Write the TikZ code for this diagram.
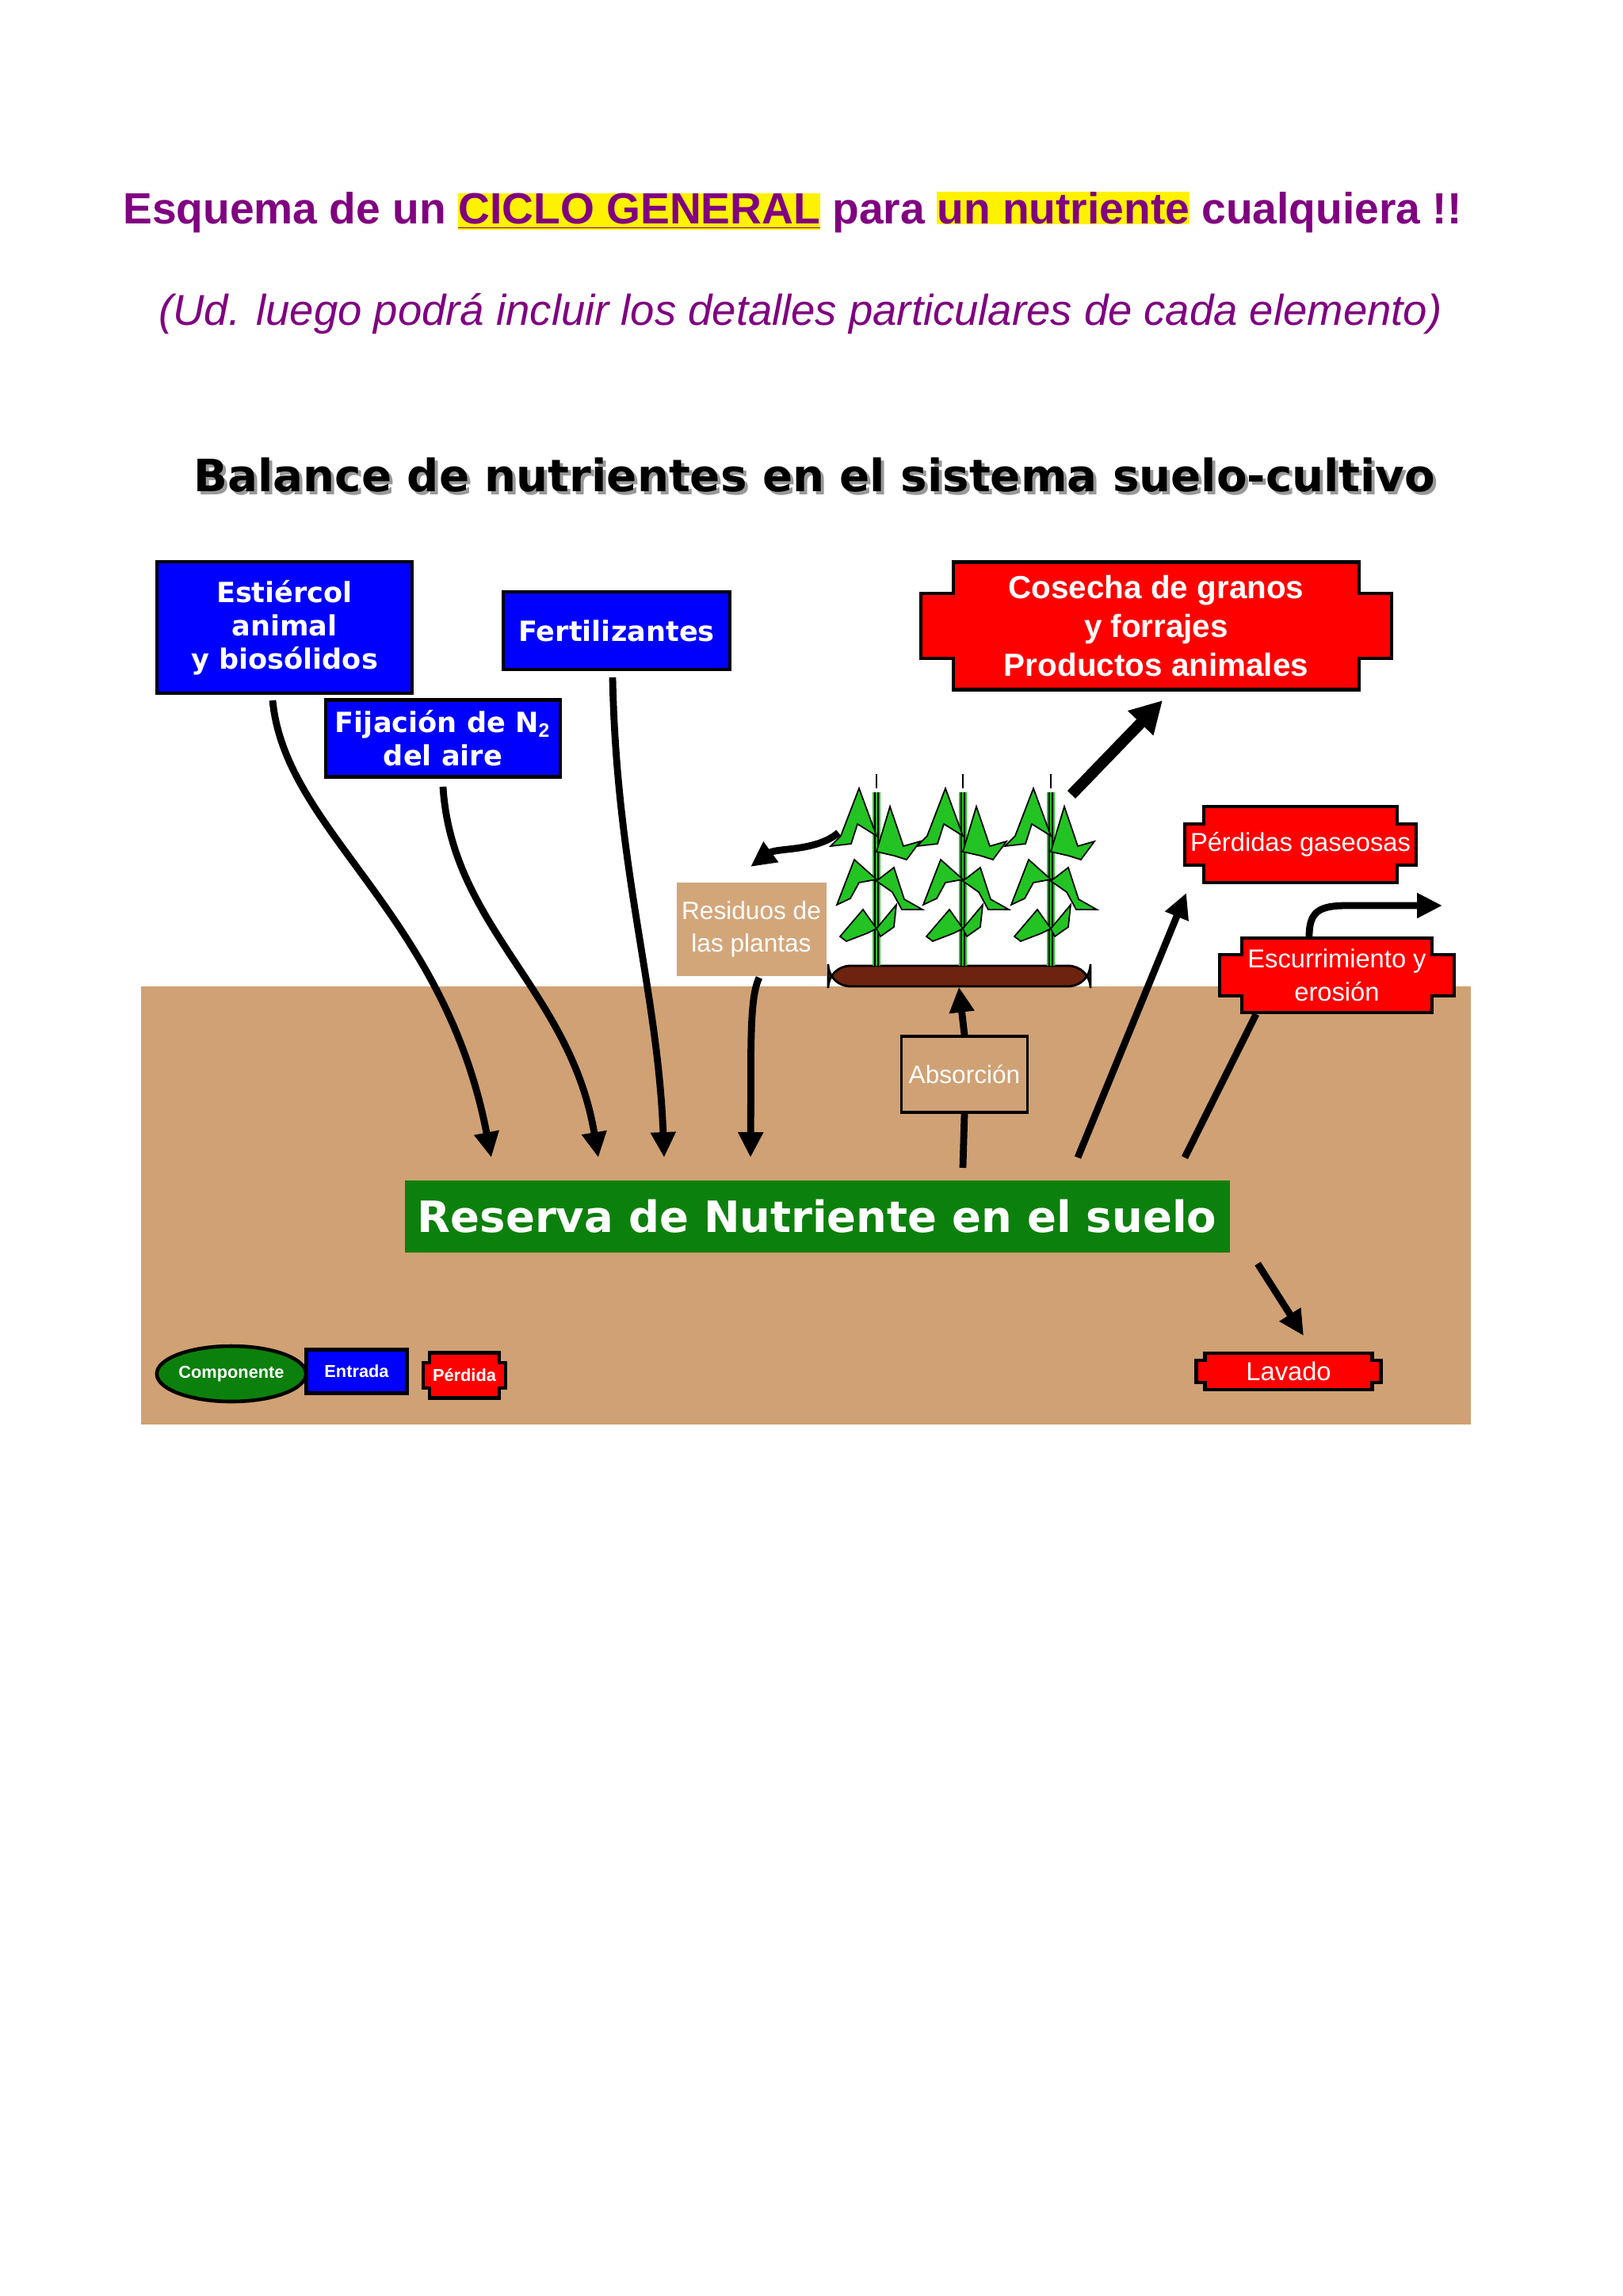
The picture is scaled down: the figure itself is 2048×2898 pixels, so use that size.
\documentclass[tikz,border=0pt]{standalone}
\usepackage{fontspec}
\setmainfont{Liberation Sans}
\newfontfamily\dvs{DejaVu Sans}
\usetikzlibrary{arrows.meta,shapes.geometric}
\definecolor{purp}{RGB}{128,0,128}
\definecolor{soil}{RGB}{208,161,116}
\definecolor{resid}{RGB}{211,166,122}
\definecolor{pad}{RGB}{110,35,15}
\definecolor{leafg}{RGB}{35,195,35}
\definecolor{resg}{RGB}{12,128,12}
\definecolor{myblue}{RGB}{0,0,255}
\definecolor{myred}{RGB}{255,0,0}
\newcommand\notchbox[7]{% cx cy w h tw th name
  \filldraw[fill=myred,draw=black,line width=1.3pt]
   ({#1-#3/2},{#2-#4/2}) -- ++(#3,0) -- ++(0,{(#4-#6)/2}) -- ++(#5,0) -- ++(0,#6) -- ++(-#5,0)
   -- ++(0,{(#4-#6)/2}) -- ++(-#3,0) -- ++(0,{-(#4-#6)/2}) -- ++(-#5,0) -- ++(0,-#6) -- ++(#5,0) -- cycle;
  \coordinate (#7) at (#1,#2);}
\begin{document}
\begin{tikzpicture}[x=0.1mm,y=-0.1mm,
  inbox/.style={fill=myblue,draw=black,line width=1.3pt,text=white,font=\dvs\bfseries\fontsize{10}{12}\selectfont,align=center,inner sep=0pt},
  lbl/.style={text=white,align=center,inner sep=0pt},
  arr/.style={line width=2.5pt,-{Triangle[length=3.2mm,width=3mm]}},
  leaf/.style={fill=leafg,draw=black,line width=0.5pt}]
\useasboundingbox[fill=white] (0,0) rectangle (2048,2898);
% titles
\node[text=purp,font=\bfseries\fontsize{15.7}{18}\selectfont] (t1) at (1000,268)
 {Esquema de un {\setlength{\fboxsep}{0pt}\colorbox{yellow}{\underline{CICLO GENERAL}}} para {\setlength{\fboxsep}{0pt}\colorbox{yellow}{un nutriente}} cualquiera !!};
\node[text=purp,font=\itshape\fontsize{15.5}{18}\selectfont] (t2) at (1010,396)
 {(Ud. luego podrá incluir los detalles particulares de cada elemento)};
\node[text=black!40,font=\dvs\bfseries\fontsize{16}{19}\selectfont] at (1032,604) {Balance de nutrientes en el sistema suelo-cultivo};
\node[font=\dvs\bfseries\fontsize{16}{19}\selectfont] (t3) at (1028,600) {Balance de nutrientes en el sistema suelo-cultivo};
% soil
\fill[soil] (178,1245) rectangle (1856,1798);
% inputs
\node[inbox,minimum width=32.2mm,minimum height=16.6mm] (est) at (359,792) {Estiércol\\animal\\y biosólidos};
\node[inbox,minimum width=28.6mm,minimum height=9.8mm] (fer) at (778,796) {Fertilizantes};
\node[inbox,minimum width=29.6mm,minimum height=9.7mm] (fij) at (559,932) {Fijación de N$_{\mathbf 2}$\\del aire};
% losses
\notchbox{1459}{790}{512}{161}{41}{82}{cos}
\node[lbl,font=\bfseries\fontsize{11.5}{14}\selectfont] at (cos) {Cosecha de granos\\y forrajes\\Productos animales};
\notchbox{1641}{1066}{244}{96}{24}{52}{gas}
\node[lbl,font=\fontsize{9.3}{11}\selectfont] at (gas) {Pérdidas gaseosas};
\notchbox{1687}{1231}{240}{94}{28}{52}{esc}
\node[lbl,font=\fontsize{9.3}{12}\selectfont] at (esc) {Escurrimiento y\\erosión};
\notchbox{1626}{1731}{211}{46}{11}{28}{lav}
\node[lbl,font=\fontsize{9.3}{11}\selectfont] at (lav) {Lavado};
% residues
\node[fill=resid,lbl,minimum width=18.9mm,minimum height=11.8mm,font=\fontsize{9}{11.5}\selectfont] (res) at (948,1173) {Residuos de\\las plantas};
% plants
\filldraw[fill=pad,draw=black,line width=0.8pt,rounded corners=8] (1045,1219) rectangle (1376,1245);
\node[inner sep=0pt,minimum width=33.1mm,minimum height=2.6mm] (padn) at (1210,1232) {};
\foreach \px in {1106,1215,1326}{
  \draw[line width=0.6pt] (\px,977) -- (\px,995);
  \draw[leafg,line width=3pt] (\px,1000) -- (\px,1219);
  \draw[line width=0.5pt] (\px-2,1000) -- (\px-2,1219) (\px+2,1000) -- (\px+2,1219);
  \filldraw[leaf] (\px,1055) -- (\px-22,995) -- (\px-45,1055) -- (\px-58,1068) -- (\px-32,1065) -- (\px-24,1040) -- cycle;
  \filldraw[leaf] (\px,1075) -- (\px+17,1018) -- (\px+34,1068) -- (\px+55,1062) -- (\px+38,1085) -- (\px+22,1080) -- cycle;
  \filldraw[leaf] (\px,1110) -- (\px-28,1085) -- (\px-50,1142) -- (\px-33,1134) -- (\px-22,1114) -- cycle;
  \filldraw[leaf] (\px,1112) -- (\px+22,1095) -- (\px+35,1135) -- (\px+58,1148) -- (\px+32,1148) -- (\px+20,1126) -- cycle;
  \filldraw[leaf] (\px,1172) -- (\px-17,1148) -- (\px-46,1182) -- (\px-38,1188) -- (\px-12,1178) -- cycle;
  \filldraw[leaf] (\px,1172) -- (\px+25,1142) -- (\px+22,1170) -- (\px+5,1182) -- cycle;
}
\coordinate (plL) at (1058,1051);
\coordinate (plR) at (1352,1003);
% absorption
\node[fill=soil,draw=black,line width=1pt,lbl,minimum width=15.9mm,minimum height=9.6mm,font=\fontsize{9}{11}\selectfont] (abs) at (1217,1356) {Absorción};
% reserve
\node[fill=resg,text=white,inner sep=0pt,minimum width=104.1mm,minimum height=9.1mm,font=\dvs\bfseries\fontsize{15.5}{18}\selectfont] (rsv) at (1031,1535) {Reserva de Nutriente en el suelo};
% legend
\node[ellipse,fill=resg,draw=black,line width=1.3pt,text=white,inner sep=0pt,minimum width=14.1mm,minimum height=7mm,font=\bfseries\fontsize{6.2}{7}\selectfont] (lc) at (292,1734) {Componente};
\node[fill=myblue,draw=black,line width=1.3pt,text=white,inner sep=0pt,minimum width=12.7mm,minimum height=5.5mm,font=\bfseries\fontsize{6.2}{7}\selectfont] (le) at (450,1731) {Entrada};
\notchbox{586}{1736}{88}{57}{8}{32}{lp}
\node[lbl,font=\bfseries\fontsize{6.2}{7}\selectfont] at (lp) {Pérdida};
% connectors
\coordinate (e1) at (344,884); \coordinate (e2) at (620,1461);
\draw[arr] (e1) .. controls (360,1050) and (560,1150) .. (e2);
\coordinate (f1) at (559,993); \coordinate (f2) at (755,1461);
\draw[arr] (f1) .. controls (570,1170) and (720,1250) .. (f2);
\coordinate (g1) at (773,855); \coordinate (g2) at (838,1461);
\draw[arr] (g1) .. controls (778,1100) and (830,1250) .. (g2);
\coordinate (r1) at (958,1234); \coordinate (r2) at (947,1461);
\draw[arr] (r1) .. controls (945,1260) and (948,1330) .. (r2);
\draw[line width=2.5pt] (1215,1474) -- (abs.south);
\draw[arr] (abs.north) -- (padn.south);
\coordinate (pr) at (947,1094);
\draw[arr] (plL) .. controls (1030,1075) and (980,1070) .. (pr);
\coordinate (ch) at (1467,884);
\draw[line width=4pt,-{Triangle[length=4mm,width=4.2mm]}] (plR) -- (ch);
\coordinate (g0) at (1360,1461); \coordinate (gt) at (1497,1127);
\draw[arr] (g0) -- (gt);
\coordinate (s0) at (1495,1461); \coordinate (sb) at (1585,1280);
\draw[line width=2.5pt] (s0) -- (sb);
\coordinate (st) at (1652,1182); \coordinate (se) at (1820,1143);
\draw[arr] (st) .. controls (1652,1150) and (1665,1143) .. (1700,1143) -- (se);
\coordinate (l0) at (1587,1595); \coordinate (l1) at (1645,1686);
\draw[arr] (l0) -- (l1);
\end{tikzpicture}
\end{document}
